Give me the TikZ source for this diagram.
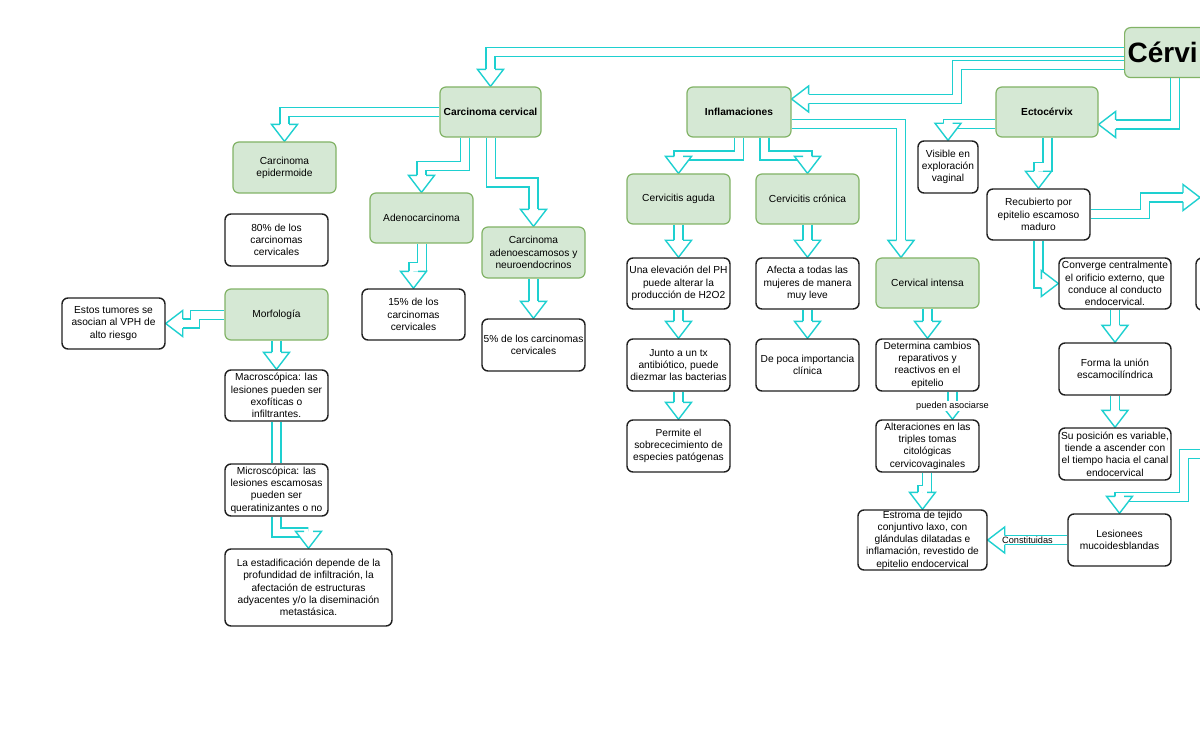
\documentclass[tikz,border=0pt]{standalone}
\usepackage{fontspec}
\setmainfont{Liberation Sans}
\usetikzlibrary{calc}
\pgfdeclarelayer{bg}
\pgfsetlayers{bg,main}
\definecolor{cy}{RGB}{30,208,208}
\definecolor{gfill}{HTML}{D5E8D4}
\definecolor{gdraw}{HTML}{82B366}
\tikzset{
  every node/.style={font=\fontsize{7.65}{9.2}\selectfont, align=center, inner sep=0pt},
  gbox/.style={draw=gdraw, fill=gfill, rounded corners=4.5pt, line width=0.9pt},
  wbox/.style={draw=black!88, fill=white, rounded corners=4.5pt, line width=1.05pt},
  shaft/.style={draw=cy, line width=1.05pt, double=white, double distance=5.7pt},
  lbl/.style={fill=white, font=\fontsize{6.9}{8}\selectfont, inner sep=0.6pt},
  hd/.pic={\fill[white] (-13,-17)--(0,0)--(13,-17)--cycle;
           \draw[cy,line width=1.05pt] (-4.5,-17)--(-13,-17)--(0,0)--(13,-17)--(4.5,-17);},
  hl/.pic={\fill[white] (17,-13)--(0,0)--(17,13)--cycle;
           \draw[cy,line width=1.05pt] (17,-4.5)--(17,-13)--(0,0)--(17,13)--(17,4.5);},
  hr/.pic={\fill[white] (-17,-13)--(0,0)--(-17,13)--cycle;
           \draw[cy,line width=1.05pt] (-17,-4.5)--(-17,-13)--(0,0)--(-17,13)--(-17,4.5);},
}
\newcommand\mybox[7]{%
  \pgfmathsetmacro\bw{(#5-#3)*0.75}\pgfmathsetmacro\bh{(#6-#4)*0.75}%
  \node[#1, minimum width=\bw pt, minimum height=\bh pt] (#2) at ({(#3+#5)/2},{(#4+#6)/2}) {#7};}
\begin{document}
\begin{tikzpicture}[x=0.75pt, y=-0.75pt]
\useasboundingbox (0,0) rectangle (1200,731);
\begin{scope}
\clip (0,0) rectangle (1200,731);
% title node (cut at the right edge)
\node[gbox, anchor=north west, minimum height=37.5pt, text width=112.5pt, align=left, inner xsep=2.25pt,
      font=\fontsize{21}{25}\selectfont\bfseries] (cervix) at (1124,27) {Cérvi};
% green nodes
\mybox{gbox}{cc}{440}{87}{541}{137}{\bfseries Carcinoma cervical}
\mybox{gbox}{epi}{233}{142}{336}{193}{Carcinoma\\epidermoide}
\mybox{gbox}{adeno}{370}{193}{473}{243}{Adenocarcinoma}
\mybox{gbox}{cadeno}{482}{227}{585}{278}{Carcinoma\\adenoescamosos y\\neuroendocrinos}
\mybox{gbox}{morf}{225}{289}{328}{340}{Morfología}
\mybox{gbox}{infl}{687}{87}{791}{137}{\bfseries Inflamaciones}
\mybox{gbox}{ecto}{996}{87}{1098}{137}{\bfseries Ectocérvix}
\mybox{gbox}{cva}{627}{174}{730}{224}{Cervicitis aguda}
\mybox{gbox}{cvc}{756}{174}{859}{224}{Cervicitis crónica}
\mybox{gbox}{cint}{876}{258}{979}{308}{Cervical intensa}
% white nodes
\mybox{wbox}{p80}{225}{214}{328}{266}{80\% de los\\carcinomas\\cervicales}
\mybox{wbox}{estos}{62}{298}{165}{349}{Estos tumores se\\asocian al VPH de\\alto riesgo}
\mybox{wbox}{macro}{225}{370}{328}{421}{Macroscópica: las\\lesiones pueden ser\\exofíticas o\\infiltrantes.}
\mybox{wbox}{micro}{225}{464}{328}{516}{Microscópica: las\\lesiones escamosas\\pueden ser\\queratinizantes o no}
\mybox{wbox}{estad}{225}{549}{392}{626}{La estadificación depende de la\\profundidad de infiltración, la\\afectación de estructuras\\adyacentes y/o la diseminación\\metastásica.}
\mybox{wbox}{p15}{362}{289}{465}{340}{15\% de los\\carcinomas\\cervicales}
\mybox{wbox}{p5}{482}{319}{585}{371}{5\% de los carcinomas\\cervicales}
\mybox{wbox}{ph}{627}{258}{730}{309}{Una elevación del PH\\puede alterar la\\producción de H2O2}
\mybox{wbox}{junto}{627}{339}{730}{391}{Junto a un tx\\antibiótico, puede\\diezmar las bacterias}
\mybox{wbox}{perm}{627}{420}{730}{472}{Permite el\\sobrececimiento de\\especies patógenas}
\mybox{wbox}{afecta}{756}{258}{859}{309}{Afecta a todas las\\mujeres de manera\\muy leve}
\mybox{wbox}{poca}{756}{339}{859}{391}{De poca importancia\\clínica}
\mybox{wbox}{determ}{876}{339}{979}{391}{Determina cambios\\reparativos y\\reactivos en el\\epitelio}
\mybox{wbox}{alter}{876}{420}{979}{472}{Alteraciones en las\\triples tomas\\citológicas\\cervicovaginales}
\mybox{wbox}{estroma}{858}{510}{987}{570}{Estroma de tejido\\conjuntivo laxo, con\\glándulas dilatadas e\\inflamación, revestido de\\epitelio endocervical}
\mybox{wbox}{vis}{918}{141}{978}{193}{Visible en\\exploración\\vaginal}
\mybox{wbox}{recub}{987}{189}{1090}{240}{Recubierto por\\epitelio escamoso\\maduro}
\mybox{wbox}{conv}{1059}{258}{1171}{309}{Converge centralmente\\el orificio externo, que\\conduce al conducto\\endocervical.}
\mybox{wbox}{forma}{1059}{343}{1171}{395}{Forma la unión\\escamocilíndrica}
\mybox{wbox}{supos}{1059}{428}{1171}{480}{Su posición es variable,\\tiende a ascender con\\el tiempo hacia el canal\\endocervical}
\mybox{wbox}{lesion}{1068}{514}{1171}{566}{Lesionees\\mucoidesblandas}
\mybox{wbox}{rbox}{1196}{258}{1300}{310}{}
\coordinate (offA) at (1200,197.5);
\coordinate (offB) at (1206,454);
\end{scope}
% connectors on the background layer
\begin{pgfonlayer}{bg}
\fill[white] (0,0) rectangle (1200,731);
\clip (0,0) rectangle (1200,731);
\draw[shaft] (cervix.west |- 0,52) -| ($(cc.north)+(0,-17)$); \pic at (cc.north) {hd};
\draw[shaft] (cervix.west |- 0,65) -| (957,99) -- ($(infl.east |- 0,99)+(17,0)$); \pic at (infl.east |- 0,99) {hl};
\draw[shaft] (cervix.south -| 1175,0) |- ($(ecto.east |- 0,124.5)+(17,0)$); \pic at (ecto.east |- 0,124.5) {hl};
\draw[shaft] (cc.west |- 0,112) -| ($(epi.north)+(0,-17)$); \pic at (epi.north) {hd};
\draw[shaft] (cc.south -| 465,0) -- (465,166) -| ($(adeno.north)+(0,-17)$); \pic at (adeno.north) {hd};
\draw[shaft] (cc.south -| 491,0) -- (491,182.5) -| ($(cadeno.north)+(0,-17)$); \pic at (cadeno.north) {hd};
\draw[shaft] (adeno.south -| 422,0) -- (422,267) -| ($(p15.north)+(0,-17)$); \pic at (p15.north) {hd};
\draw[shaft] (cadeno.south) -- ($(p5.north)+(0,-17)$); \pic at (p5.north) {hd};
\draw[shaft] (morf.west |- 0,315) -- (195,315) |- ($(estos.east)+(17,0)$); \pic at (estos.east) {hl};
\draw[shaft] (morf.south) -- ($(macro.north)+(0,-17)$); \pic at (macro.north) {hd};
\draw[shaft] (macro.south) -- (micro.north);
\draw[shaft] (micro.south) -- (276.5,532.5) -| ($(estad.north)+(0,-16)$); \pic at (estad.north) {hd};
\draw[shaft] (infl.south -| 739,0) -- (739,155.5) -| ($(cva.north)+(0,-16)$); \pic at (cva.north) {hd};
\draw[shaft] (infl.south -| 764.5,0) -- (764.5,155.5) -| ($(cvc.north)+(0,-16)$); \pic at (cvc.north) {hd};
\draw[shaft] (infl.east |- 0,124) -| ($(cint.north -| 901,0)+(0,-17)$); \pic at (cint.north -| 901,0) {hd};
\draw[shaft] (cva.south) -- ($(ph.north)+(0,-17)$); \pic at (ph.north) {hd};
\draw[shaft] (ph.south) -- ($(junto.north)+(0,-17)$); \pic at (junto.north) {hd};
\draw[shaft] (junto.south) -- ($(perm.north)+(0,-17)$); \pic at (perm.north) {hd};
\draw[shaft] (cvc.south) -- ($(afecta.north)+(0,-17)$); \pic at (afecta.north) {hd};
\draw[shaft] (afecta.south) -- ($(poca.north)+(0,-17)$); \pic at (poca.north) {hd};
\draw[shaft] (cint.south) -- ($(determ.north)+(0,-17)$); \pic at (determ.north) {hd};
\draw[shaft] (determ.south -| 952.5,0) -- ($(alter.north -| 952.5,0)+(0,-17)$); \pic at (alter.north -| 952.5,0) {hd};
\draw[shaft] (alter.south -| 927,0) -- (927,490) -| ($(estroma.north)+(0,-17)$); \pic at (estroma.north) {hd};
\draw[shaft] (ecto.west |- 0,124) -| ($(vis.north)+(0,-16)$); \pic at (vis.north) {hd};
\draw[shaft] (ecto.south -| 1047.5,0) -- (1047.5,167) -| ($(recub.north)+(0,-17)$); \pic at (recub.north) {hd};
\draw[shaft] (recub.east |- 0,214) -- (1145,214) |- ($(offA)+(-16,0)$); \pic at (offA) {hr};
\draw[shaft] (recub.south -| 1038.5,0) |- ($(conv.west)+(-16,0)$); \pic at (conv.west) {hr};
\draw[shaft] (conv.south) -- ($(forma.north)+(0,-17)$); \pic at (forma.north) {hd};
\draw[shaft] (forma.south) -- ($(supos.north)+(0,-17)$); \pic at (supos.north) {hd};
\draw[shaft] (offB) -| (1184,497) -| ($(lesion.north)+(0,-16)$); \pic at (lesion.north) {hd};
\draw[shaft] (lesion.west |- 0,540) -- ($(estroma.east |- 0,540)+(17,0)$); \pic at (estroma.east |- 0,540) {hl};
\end{pgfonlayer}
% connector labels
\node[lbl] (lab1) at (952.5,406) {pueden asociarse};
\node[lbl] (lab2) at (1027.5,540) {Constituidas};
\end{tikzpicture}
\end{document}
